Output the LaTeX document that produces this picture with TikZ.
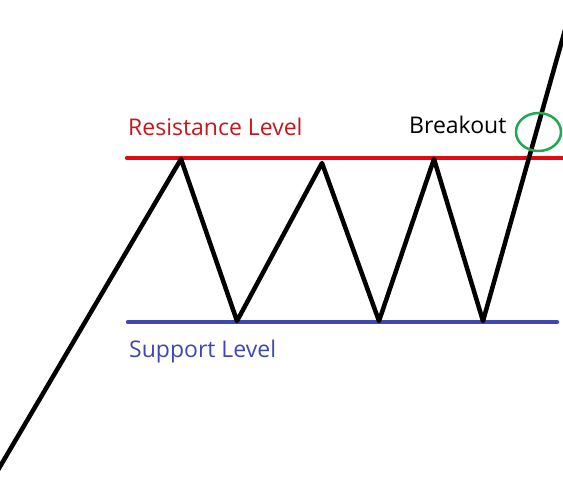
\documentclass[tikz,border=0pt]{standalone}
\usepackage{fontspec}
\setmainfont{Open Sans}
\usepackage{tikz}
\usetikzlibrary{shapes.geometric, positioning}
\definecolor{rojolinea}{RGB}{226,10,14}
\definecolor{rojotexto}{RGB}{200,22,30}
\definecolor{azul}{RGB}{63,72,176}
\definecolor{verde}{RGB}{34,168,80}

\begin{document}
\begin{tikzpicture}[x=1pt, y=-1pt,
		precio/.style={line width=4.5pt, black, line join=round},
		nivel/.style={line width=4.5pt, line cap=round},
		etiqueta/.style={font=\fontsize{23}{23}\selectfont, anchor=base west, inner sep=0pt}]
		\useasboundingbox (0,0) rectangle (563,488);
		% Niveles de soporte y resistencia
		\coordinate (r0) at (127,158);
		\coordinate (r1) at (566,158);
		\coordinate (s0) at (128,322);
		\coordinate (s1) at (557,322);
		\draw[nivel, rojolinea] (r0) -- (r1);
		\draw[nivel, azul] (s0) -- (s1);
		% Recorrido del precio
		\coordinate (p0) at (-2,470);
		\coordinate (p1) at (181,159);
		\coordinate (p2) at (237,321);
		\coordinate (p3) at (322,163);
		\coordinate (p4) at (379,321);
		\coordinate (p5) at (434,159);
		\coordinate (p6) at (483,321);
		\coordinate (p7) at (565,30);
		\draw[precio] (p0) -- (p1) -- (p2) -- (p3) -- (p4) -- (p5) -- (p6) -- (p7);
		% Etiquetas
		\node[etiqueta, rojotexto] (resistencia) at (128,135) {Resistance Level};
		\node[etiqueta, azul] (soporte) at (129,357) {Support Level};
		\node[etiqueta, black] (texto) at (409,133) {Breakout};
		% Ruptura
		\node[ellipse, draw=verde, line width=2.5pt, minimum width=45pt, minimum height=38pt, inner sep=0pt] (ruptura) at (538.5,132) {};
	\end{tikzpicture}
\end{document}
